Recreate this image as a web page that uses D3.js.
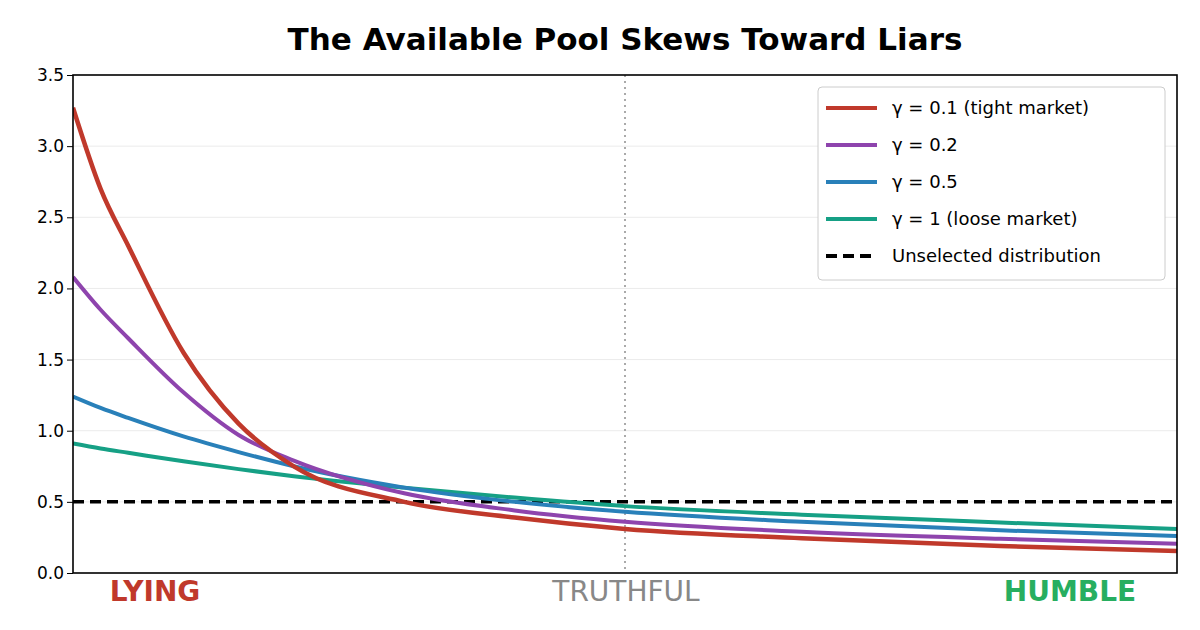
<!DOCTYPE html>
<html>
<head>
<meta charset="utf-8">
<script src="https://cdn.jsdelivr.net/npm/d3@7"></script>
<style>
body{margin:0;background:#fff;font-family:"DejaVu Sans",sans-serif;}
</style>
</head>
<body>
<svg id="c" width="1200" height="630"></svg>
<script>
// x position along the lying -> humble axis (0..1)
var xs=[0,0.025,0.05,0.1,0.15,0.2,0.3,0.4,0.5,0.66,0.84,1];
var red=[3.27,2.7,2.3,1.55,1.05,0.75,0.5,0.39,0.31,0.245,0.19,0.155];
var purple=[2.08,1.85,1.65,1.27,0.97,0.79,0.56,0.44,0.36,0.29,0.24,0.205];
var blue=[1.24,1.16,1.09,0.96,0.85,0.75,0.6,0.5,0.43,0.36,0.3,0.26];
var green=[0.91,0.875,0.845,0.785,0.73,0.68,0.6,0.53,0.47,0.41,0.355,0.31];
var names=["\u03b3 = 0.1 (tight market)","\u03b3 = 0.2","\u03b3 = 0.5","\u03b3 = 1 (loose market)"];
var colors=["#c0392b","#8e44ad","#2980b9","#16a085"];
var yTicks=[0,0.5,1,1.5,2,2.5,3,3.5];

var svg=d3.select('#c');
var L=73,R=1177,T=75,B=573;
var x=d3.scaleLinear().domain([0,1]).range([L,R]);
var y=d3.scaleLinear().domain([0,3.5]).range([B,T]);

svg.append('text').attr('x',625).attr('y',50).attr('text-anchor','middle')
  .attr('font-size',31).attr('font-weight','bold').text('The Available Pool Skews Toward Liars');

//格線
svg.selectAll('.g').data(yTicks.slice(1,-1)).enter().append('line')
  .attr('x1',L).attr('x2',R).attr('y1',d=>y(d)).attr('y2',d=>y(d))
  .attr('stroke','#ebebeb').attr('stroke-width',1);

svg.append('line').attr('x1',x(0.5)).attr('x2',x(0.5)).attr('y1',T).attr('y2',B)
  .attr('stroke','#aaa').attr('stroke-width',2).attr('stroke-dasharray','2,4');

var g=svg.append('g').attr('clip-path','url(#clip)');
svg.append('clipPath').attr('id','clip').append('rect').attr('x',L).attr('y',T).attr('width',R-L).attr('height',B-T);

var line=d3.line().x(d=>x(d[0])).y(d=>y(d[1])).curve(d3.curveMonotoneX);
var series=[red,purple,blue,green];
g.append('line').attr('x1',L).attr('x2',R).attr('y1',y(0.5)).attr('y2',y(0.5))
  .attr('stroke','#000').attr('stroke-width',3.5).attr('stroke-dasharray','11,6');
series.slice().reverse().forEach(function(s,k){
  var i=series.length-1-k;
  g.append('path').attr('d',line(xs.map((v,j)=>[v,s[j]])))
    .attr('fill','none').attr('stroke',colors[i]).attr('stroke-width',i==0?4.5:4);
});

svg.append('g').attr('transform','translate('+L+',0)')
  .call(d3.axisLeft(y).tickValues(yTicks).tickFormat(d3.format('.1f')).tickSize(6))
  .call(a=>a.selectAll('text').attr('font-size',17).attr('fill','#000').attr('font-family','DejaVu Sans'))
  .call(a=>a.select('.domain').remove());
svg.append('rect').attr('x',L).attr('y',T).attr('width',R-L).attr('height',B-T)
  .attr('fill','none').attr('stroke','#000').attr('stroke-width',1.6);

svg.append('text').attr('x',155).attr('y',601).attr('text-anchor','middle').attr('font-size',28)
  .attr('font-weight','bold').attr('fill','#c0392b').text('LYING');
svg.append('text').attr('x',626).attr('y',601).attr('text-anchor','middle').attr('font-size',28)
  .attr('fill','#888').text('TRUTHFUL');
svg.append('text').attr('x',1070).attr('y',601).attr('text-anchor','middle').attr('font-size',28)
  .attr('font-weight','bold').attr('fill','#27ae60').text('HUMBLE');

//圖例
var lg=svg.append('g');
lg.append('rect').attr('x',818).attr('y',87).attr('width',347).attr('height',193).attr('rx',4)
  .attr('fill','#fff').attr('stroke','#ccc');
var items=names.concat(['Unselected distribution']);
items.forEach(function(t,i){
  var yy=108+i*37;
  lg.append('line').attr('x1',826).attr('x2',877).attr('y1',yy).attr('y2',yy)
    .attr('stroke',i<4?colors[i]:'#000').attr('stroke-width',4)
    .attr('stroke-dasharray',i<4?null:'11,6');
  lg.append('text').attr('x',892).attr('y',yy+6).attr('font-size',18).text(t);
});
</script>
</body>
</html>
